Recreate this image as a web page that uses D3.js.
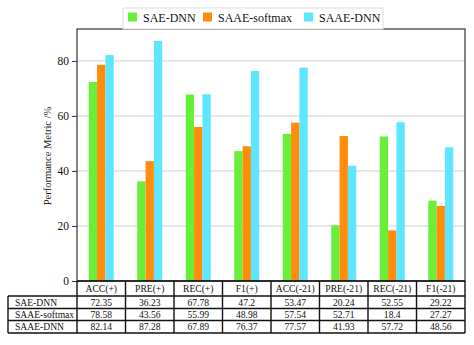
<!DOCTYPE html>
<html><head><meta charset="utf-8">
<script src="https://cdn.jsdelivr.net/npm/d3@7"></script>
<style>html,body{margin:0;padding:0;background:#fff;}svg{display:block;}</style>
</head><body>
<svg id="chart" width="474" height="345"></svg>
<script>
const categories = ["ACC(+)","PRE(+)","REC(+)","F1(+)","ACC(-21)","PRE(-21)","REC(-21)","F1(-21)"];
const seriesNames = ["SAE-DNN","SAAE-softmax","SAAE-DNN"];
const saeDnn = [72.35,36.23,67.78,47.2,53.47,20.24,52.55,29.22];
const saaeSoftmax = [78.58,43.56,55.99,48.98,57.54,52.71,18.4,27.27];
const saaeDnn = [82.14,87.28,67.89,76.37,77.57,41.93,57.72,48.56];
const yTicks = [0,20,40,60,80];
const colors = ["#6aef38","#ff8c0a","#5ee6ff"];
const seriesValues = [saeDnn, saaeSoftmax, saaeDnn];

const svg = d3.select("#chart");
const font = "Liberation Serif";
const L = 77, R = 465, T = 29, B = 281;
const x = d3.scaleBand().domain(categories).range([L,R]);
const y = d3.scaleLinear().domain([0,91.6]).range([B,T]);
const xs = d3.scaleBand().domain(seriesNames).range([0,25]);

// gridlines
svg.append("g").selectAll("line").data(yTicks.filter(d=>d>0)).join("line")
  .attr("x1",L).attr("x2",R).attr("y1",d=>y(d)).attr("y2",d=>y(d))
  .attr("stroke","#d0d0d0").attr("stroke-width",1);

// bars
const groups = svg.append("g").selectAll("g").data(categories).join("g")
  .attr("transform",c=>`translate(${x(c)+x.bandwidth()/2-12.5},0)`);
groups.selectAll("rect").data((c,i)=>seriesNames.map((s,j)=>({s,v:seriesValues[j][i],c:colors[j]}))).join("rect")
  .attr("x",d=>xs(d.s)).attr("width",xs.bandwidth())
  .attr("y",d=>y(d.v)).attr("height",d=>B-y(d.v)).attr("fill",d=>d.c);

// frame
svg.append("rect").attr("x",L).attr("y",T).attr("width",R-L).attr("height",B-T)
  .attr("fill","none").attr("stroke","#333").attr("stroke-width",1.2);

// y axis
const ya = svg.append("g").attr("transform",`translate(${L},0)`)
  .call(d3.axisLeft(y).tickValues(yTicks).tickSize(5).tickPadding(3));
ya.attr("font-family",font).attr("font-size",11.5);
ya.select(".domain").remove();
ya.selectAll("text").attr("font-family",font).attr("font-size",11.5).attr("fill","#111");
ya.selectAll("line").attr("stroke","#333");

svg.append("text").attr("transform",`translate(51,156) rotate(-90)`)
  .attr("text-anchor","middle").attr("font-family",font).attr("font-size",10.5).attr("fill","#222")
  .text("Performance Metric /%");

// legend
const lg = svg.append("g");
lg.append("rect").attr("x",123).attr("y",8).attr("width",260).attr("height",21)
  .attr("fill","#fff").attr("stroke","#ddd");
const legX = [128,203,304];
seriesNames.forEach((s,i)=>{
  lg.append("rect").attr("x",legX[i]).attr("y",12.5).attr("width",9).attr("height",9).attr("fill",colors[i]);
  lg.append("text").attr("x",legX[i]+15).attr("y",21.5).attr("font-family",font).attr("font-size",12).attr("fill","#111").text(s);
});

// table
const rowY = [281,296,308.5,320.5,333];
const tb = svg.append("g").attr("font-family",font);
const tFont = 9.6;
categories.forEach(c=>{
  tb.append("text").attr("x",x(c)+x.bandwidth()/2).attr("y",291.5).attr("text-anchor","middle")
    .attr("font-family",font).attr("font-size",tFont).attr("fill","#111").text(c);
});
seriesNames.forEach((s,j)=>{
  const yy = (rowY[j+1]+rowY[j+2])/2+3.5;
  tb.append("text").attr("x",15).attr("y",yy).attr("font-family",font).attr("font-size",tFont).attr("fill","#111").text(s);
  categories.forEach((c,i)=>{
    tb.append("text").attr("x",x(c)+x.bandwidth()/2).attr("y",yy).attr("text-anchor","middle")
      .attr("font-family",font).attr("font-size",tFont).attr("fill","#111").text(seriesValues[j][i]);
  });
});
function line(x1,y1,x2,y2){tb.append("line").attr("x1",x1).attr("y1",y1).attr("x2",x2).attr("y2",y2).attr("stroke","#111").attr("stroke-width",1.4);}
line(L,rowY[0],R,rowY[0]);
for(let k=1;k<rowY.length;k++) line(8,rowY[k],R,rowY[k]);
line(8,rowY[1],8,rowY[4]);
categories.forEach(c=>line(x(c),rowY[0],x(c),rowY[4]));
line(R,rowY[0],R,rowY[4]);
</script>
</body></html>
